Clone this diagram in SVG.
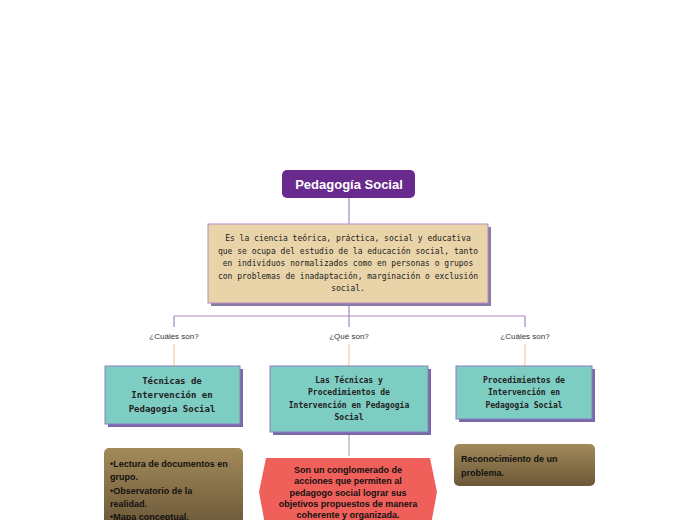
<svg xmlns="http://www.w3.org/2000/svg" width="696" height="520" viewBox="0 0 696 520">
<defs>
<linearGradient id="br" x1="0" y1="0" x2="0" y2="1"><stop offset="0" stop-color="#a38a5a"/><stop offset="1" stop-color="#6b5838"/></linearGradient>
<style>
.pix{font-family:"DejaVu Sans Mono","Liberation Mono",monospace;font-size:8px;fill:#222;text-anchor:middle}
.pixb{font-family:"DejaVu Sans Mono","Liberation Mono",monospace;font-size:9px;fill:#222;text-anchor:middle;font-weight:bold}
.lbl{font-family:"Liberation Sans",Arial,sans-serif;font-size:8px;fill:#333;text-anchor:middle}
.bold{font-family:"Liberation Sans",Arial,sans-serif;font-size:9px;font-weight:bold;fill:#111}
.teal{fill:#7ecdc2;stroke:#8c7fc0;stroke-width:1}
</style>
</defs>
<g id="connectors" fill="none">
<path d="M349 198V224M349 303V316M174 316H525M174 316V327M349 316V327M525 316V327" stroke="#a888c0" stroke-width="1.2"/>
<path d="M174 344V366M349 344V366M525 344V366" stroke="#f5c590" stroke-width="1"/>
<path d="M349 432V456" stroke="#999" stroke-width="1"/>
</g>
<g id="title"><rect x="282" y="170" width="133" height="28" rx="5" fill="#682a8c"/><text x="349" y="189" font-family="Liberation Sans,Arial,sans-serif" font-size="13" font-weight="bold" fill="#fff" text-anchor="middle">Pedagogía Social</text></g>
<g id="desc"><rect x="211" y="227" width="280" height="79" fill="#8a7aa8"/><rect x="208" y="224" width="280" height="79" fill="#e8d4a8" stroke="#b48cc4"/>
<text class="pix"><tspan x="348" y="241">Es la ciencia teórica, práctica, social y educativa</tspan><tspan x="348" y="254">que se ocupa del estudio de la educación social, tanto</tspan><tspan x="348" y="266">en individuos normalizados como en personas o grupos</tspan><tspan x="348" y="279">con problemas de inadaptación, marginación o exclusión</tspan><tspan x="348" y="291">social.</tspan></text></g>
<g id="l1"><text class="lbl" x="174" y="339">¿Cuáles son?</text></g>
<g id="l2"><text class="lbl" x="349" y="339">¿Qué son?</text></g>
<g id="l3"><text class="lbl" x="525" y="339">¿Cuáles son?</text></g>
<g id="n1"><rect x="108" y="369" width="135" height="58" fill="#7868a8"/><rect x="105" y="366" width="135" height="58" class="teal"/><text class="pixb"><tspan x="172" y="384">Técnicas de</tspan><tspan x="172" y="398">Intervención en</tspan><tspan x="172" y="412">Pedagogía Social</tspan></text></g>
<g id="n2"><rect x="273" y="369" width="158" height="66" fill="#7868a8"/><rect x="270" y="366" width="158" height="66" class="teal"/><text class="pix" font-weight="bold"><tspan x="349" y="383">Las Técnicas y</tspan><tspan x="349" y="395">Procedimientos de</tspan><tspan x="349" y="408">Intervención en Pedagogía</tspan><tspan x="349" y="420">Social</tspan></text></g>
<g id="n3"><rect x="459" y="369" width="136" height="53" fill="#7868a8"/><rect x="456" y="366" width="136" height="53" class="teal"/><text class="pix" font-weight="bold"><tspan x="524" y="383">Procedimientos de</tspan><tspan x="524" y="395">Intervención en</tspan><tspan x="524" y="408">Pedagogía Social</tspan></text></g>
<g id="n4"><rect x="104" y="448" width="139" height="80" rx="5" fill="url(#br)"/><text class="bold"><tspan x="110" y="467">•Lectura de documentos en</tspan><tspan x="110" y="480">grupo.</tspan><tspan x="110" y="494">•Observatorio de la</tspan><tspan x="110" y="507">realidad.</tspan><tspan x="110" y="520">•Mapa conceptual.</tspan></text></g>
<g id="n5"><path d="M266 458H430L437 492L430 530H266L259 492Z" fill="#f0605a"/><text class="bold" text-anchor="middle"><tspan x="348" y="473">Son un conglomerado de</tspan><tspan x="348" y="484">acciones que permiten al</tspan><tspan x="348" y="496">pedagogo social lograr sus</tspan><tspan x="348" y="507">objetivos propuestos de manera</tspan><tspan x="348" y="518">coherente y organizada.</tspan></text></g>
<g id="n6"><rect x="454" y="444" width="141" height="42" rx="5" fill="url(#br)"/><text class="bold"><tspan x="461" y="462">Reconocimiento de un</tspan><tspan x="461" y="476">problema.</tspan></text></g>
</svg>
